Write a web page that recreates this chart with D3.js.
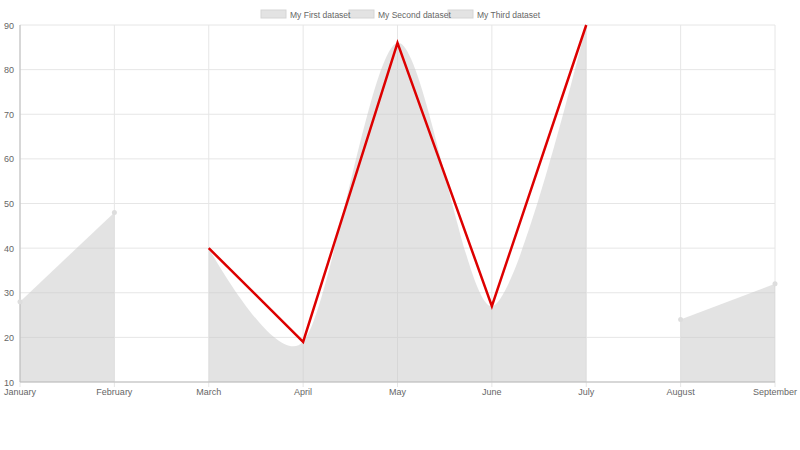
<!DOCTYPE html><html><head><meta charset="utf-8"><script src="https://cdn.jsdelivr.net/npm/d3@7"></script>
<style>body{margin:0;background:#fff}text{font-family:"Liberation Sans",Arial,sans-serif}</style></head><body><svg id="c" width="800" height="450"></svg>
<script>
const labels=["January","February","March","April","May","June","July","August","September"];
const areaValues=[28,48,40,19,86,27,90,24,32];
const areaSegments=[[0,1],[2,6],[7,8]];
const lineValues=[null,null,40,19,86,27,90,null,null];
const legendNames=["My First dataset","My Second dataset","My Third dataset"];
const yTicks=[10,20,30,40,50,60,70,80,90];
const svg=d3.select("#c");
const x=d3.scalePoint().domain(labels).range([20,775]);
const y=d3.scaleLinear().domain([10,90]).range([382,25]);
const g=svg.append("g");
g.selectAll(".h").data(yTicks).join("line").attr("x1",20).attr("x2",775).attr("y1",d=>y(d)).attr("y2",d=>y(d)).attr("stroke","#e6e6e6");
g.selectAll(".v").data(labels).join("line").attr("x1",d=>x(d)).attr("x2",d=>x(d)).attr("y1",25).attr("y2",387).attr("stroke","#e6e6e6");
g.selectAll(".yt").data(yTicks).join("text").attr("x",14).attr("y",d=>y(d)+3.5).attr("text-anchor","end").attr("font-size",9).attr("fill","#666").text(d=>d);
g.selectAll(".xt").data(labels).join("text").attr("x",d=>x(d)).attr("y",395).attr("text-anchor","middle").attr("font-size",9).attr("fill","#666").text(d=>d);
const area=d3.area().x(d=>x(labels[d])).y0(y(10)).y1(d=>y(areaValues[d])).curve(d3.curveCardinal.tension(0.15));
areaSegments.forEach(([a,b])=>{const idx=d3.range(a,b+1);g.append("path").attr("d",area(idx)).attr("fill","rgba(200,200,200,0.5)");});
g.append("line").attr("x1",20).attr("x2",20).attr("y1",25).attr("y2",382).attr("stroke","#bbb");
g.append("line").attr("x1",20).attr("x2",775).attr("y1",382).attr("y2",382).attr("stroke","#bbb");
[0,1,7,8].forEach(i=>g.append("circle").attr("cx",x(labels[i])).attr("cy",y(areaValues[i])).attr("r",2.5).attr("fill","#ddd"));
const line=d3.line().defined(d=>d!=null).x((d,i)=>x(labels[i])).y(d=>y(d));
g.append("path").attr("d",line(lineValues)).attr("fill","none").attr("stroke","#d00").attr("stroke-width",2.5);
const lx=[261,349,448];
legendNames.forEach((n,i)=>g.append("rect").attr("x",lx[i]).attr("y",10).attr("width",25).attr("height",8).attr("fill","#e3e3e3").attr("stroke","#d5d5d5"));
legendNames.forEach((n,i)=>g.append("text").attr("x",lx[i]+29).attr("y",17.5).attr("font-size",8.5).attr("fill","#666").text(n));
</script></body></html>
